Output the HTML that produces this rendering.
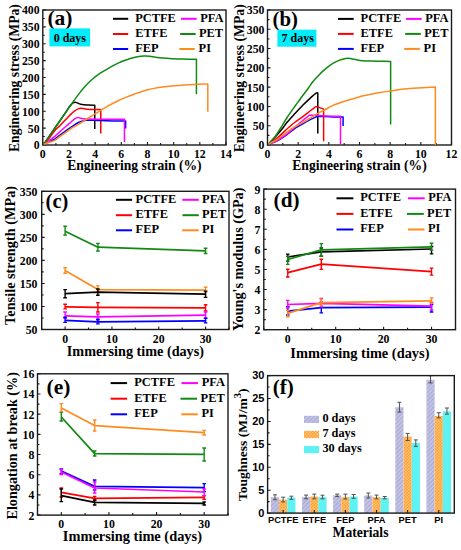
<!DOCTYPE html><html><head><meta charset="utf-8"><style>html,body{margin:0;padding:0;background:#fff;}svg{display:block}</style></head><body>
<svg width="461" height="550" viewBox="0 0 461 550">
<defs><pattern id="hl" patternUnits="userSpaceOnUse" width="3" height="3" patternTransform="rotate(45)"><rect width="3" height="3" fill="#c4c4e6"/><rect width="1.2" height="3" fill="#ababd6"/></pattern><pattern id="ho" patternUnits="userSpaceOnUse" width="3" height="3"><rect width="3" height="3" fill="#ffa03c"/><rect width="1.5" height="1.5" fill="#ffc46a"/><rect x="1.5" y="1.5" width="1.5" height="1.5" fill="#ffc46a"/></pattern></defs>
<rect width="461" height="550" fill="#fff"/>
<path d="M42.8 145h3 M42.8 128.12h3 M42.8 111.25h3 M42.8 94.38h3 M42.8 77.5h3 M42.8 60.62h3 M42.8 43.75h3 M42.8 26.88h3 M42.8 10h3 M42.8 136.56h2 M42.8 119.69h2 M42.8 102.81h2 M42.8 85.94h2 M42.8 69.06h2 M42.8 52.19h2 M42.8 35.31h2 M42.8 18.44h2 M42.8 145v-3 M68.97 145v-3 M95.14 145v-3 M121.31 145v-3 M147.49 145v-3 M173.66 145v-3 M199.83 145v-3 M226 145v-3 M55.89 145v-2 M82.06 145v-2 M108.23 145v-2 M134.4 145v-2 M160.57 145v-2 M186.74 145v-2 M212.91 145v-2" stroke="#1a1a1a" stroke-width="1.1" fill="none"/>
<rect x="42.8" y="10" width="183.2" height="135" fill="none" stroke="#1a1a1a" stroke-width="1.4"/>
<text transform="translate(39.6 149.48) scale(1 1.1)" text-anchor="end" font-family="'Liberation Serif', serif" font-weight="bold" font-size="11.8">0</text>
<text transform="translate(39.6 132.6) scale(1 1.1)" text-anchor="end" font-family="'Liberation Serif', serif" font-weight="bold" font-size="11.8">50</text>
<text transform="translate(39.6 115.73) scale(1 1.1)" text-anchor="end" font-family="'Liberation Serif', serif" font-weight="bold" font-size="11.8">100</text>
<text transform="translate(39.6 98.85) scale(1 1.1)" text-anchor="end" font-family="'Liberation Serif', serif" font-weight="bold" font-size="11.8">150</text>
<text transform="translate(39.6 81.98) scale(1 1.1)" text-anchor="end" font-family="'Liberation Serif', serif" font-weight="bold" font-size="11.8">200</text>
<text transform="translate(39.6 65.1) scale(1 1.1)" text-anchor="end" font-family="'Liberation Serif', serif" font-weight="bold" font-size="11.8">250</text>
<text transform="translate(39.6 48.23) scale(1 1.1)" text-anchor="end" font-family="'Liberation Serif', serif" font-weight="bold" font-size="11.8">300</text>
<text transform="translate(39.6 31.35) scale(1 1.1)" text-anchor="end" font-family="'Liberation Serif', serif" font-weight="bold" font-size="11.8">350</text>
<text transform="translate(39.6 14.48) scale(1 1.1)" text-anchor="end" font-family="'Liberation Serif', serif" font-weight="bold" font-size="11.8">400</text>
<text transform="translate(42.8 157.7) scale(1 1.1)" text-anchor="middle" font-family="'Liberation Serif', serif" font-weight="bold" font-size="11.8">0</text>
<text transform="translate(68.97 157.7) scale(1 1.1)" text-anchor="middle" font-family="'Liberation Serif', serif" font-weight="bold" font-size="11.8">2</text>
<text transform="translate(95.14 157.7) scale(1 1.1)" text-anchor="middle" font-family="'Liberation Serif', serif" font-weight="bold" font-size="11.8">4</text>
<text transform="translate(121.31 157.7) scale(1 1.1)" text-anchor="middle" font-family="'Liberation Serif', serif" font-weight="bold" font-size="11.8">6</text>
<text transform="translate(147.49 157.7) scale(1 1.1)" text-anchor="middle" font-family="'Liberation Serif', serif" font-weight="bold" font-size="11.8">8</text>
<text transform="translate(173.66 157.7) scale(1 1.1)" text-anchor="middle" font-family="'Liberation Serif', serif" font-weight="bold" font-size="11.8">10</text>
<text transform="translate(199.83 157.7) scale(1 1.1)" text-anchor="middle" font-family="'Liberation Serif', serif" font-weight="bold" font-size="11.8">12</text>
<text transform="translate(226 157.7) scale(1 1.1)" text-anchor="middle" font-family="'Liberation Serif', serif" font-weight="bold" font-size="11.8">14</text>
<text x="134.4" y="170.4" text-anchor="middle" font-family="'Liberation Serif', serif" font-weight="bold" font-size="13.6">Engineering strain (%)</text>
<text x="19.2" y="78.1" text-anchor="middle" font-family="'Liberation Serif', serif" font-weight="bold" font-size="13.7" transform="rotate(-90 19.2 78.1)">Engineering stress (MPa)</text>
<text x="47.4" y="25.2" text-anchor="start" font-family="'Liberation Serif', serif" font-weight="bold" font-size="21.5">(a)</text>
<rect x="49.4" y="28.4" width="40.7" height="18" fill="#02ecfa"/>
<text x="53.7" y="41.5" text-anchor="start" font-family="'Liberation Serif', serif" font-weight="bold" font-size="12">0 days</text>
<line x1="113" y1="18.8" x2="128.2" y2="18.8" stroke="#000000" stroke-width="2"/>
<text x="135.2" y="21.6" text-anchor="start" font-family="'Liberation Serif', serif" font-weight="bold" font-size="12.4">PCTFE</text>
<line x1="181" y1="18.8" x2="196.7" y2="18.8" stroke="#ff00ff" stroke-width="2"/>
<text x="200.2" y="21.6" text-anchor="start" font-family="'Liberation Serif', serif" font-weight="bold" font-size="12.4">PFA</text>
<line x1="113" y1="34" x2="128.2" y2="34" stroke="#ff0000" stroke-width="2"/>
<text x="135.2" y="36.8" text-anchor="start" font-family="'Liberation Serif', serif" font-weight="bold" font-size="12.4">ETFE</text>
<line x1="180.2" y1="34" x2="195.6" y2="34" stroke="#108a10" stroke-width="2"/>
<text x="198.9" y="36.8" text-anchor="start" font-family="'Liberation Serif', serif" font-weight="bold" font-size="12.4">PET</text>
<line x1="113" y1="49" x2="128.2" y2="49" stroke="#0000ff" stroke-width="2"/>
<text x="135.2" y="51.8" text-anchor="start" font-family="'Liberation Serif', serif" font-weight="bold" font-size="12.4">FEP</text>
<line x1="179.4" y1="49" x2="194.7" y2="49" stroke="#ff8a1e" stroke-width="2"/>
<text x="198.6" y="51.8" text-anchor="start" font-family="'Liberation Serif', serif" font-weight="bold" font-size="12.4">PI</text>
<path d="M43.72 144.32C45.61 141.57 51.15 133.52 55.1 127.79C59.05 122.05 65.05 113.36 67.4 109.9C69.76 106.44 68.32 108.18 69.23 107.03C70.15 105.88 71.81 103.76 72.9 102.98C73.99 102.2 74.47 102.18 75.78 102.37C77.08 102.57 78.72 103.73 80.75 104.16C82.78 104.6 85.61 104.8 87.95 104.97C90.28 105.14 93.62 105.14 94.75 105.18L94.75 128.97" fill="none" stroke="#000000" stroke-width="1.5" stroke-linejoin="round"/>
<path d="M43.72 144.32C44.65 143.26 47.45 140.25 49.34 137.91C51.24 135.57 53.31 132.37 55.1 130.28C56.89 128.2 57.65 127.89 60.07 125.42C62.49 122.96 67.25 117.86 69.63 115.47C72 113.08 72.79 112.22 74.34 111.08C75.89 109.94 77.7 109.1 78.92 108.62C80.14 108.14 80.16 108.1 81.66 108.21C83.17 108.33 85.85 109.08 87.95 109.29C90.04 109.51 92.09 109.46 94.23 109.5C96.36 109.53 99.68 109.5 100.77 109.5L100.77 133.53" fill="none" stroke="#ff0000" stroke-width="1.5" stroke-linejoin="round"/>
<path d="M43.72 144.32C44.65 143.88 47.45 142.55 49.34 141.62C51.24 140.7 53.31 139.89 55.1 138.79C56.89 137.69 57.72 136.76 60.07 135.04C62.43 133.32 67.27 129.85 69.23 128.46C71.2 127.07 70.24 127.74 71.85 126.71C73.46 125.68 76.52 123.37 78.92 122.29C81.32 121.2 82.78 120.47 86.24 120.19C89.71 119.91 95.4 120.48 99.72 120.6C104.04 120.72 107.84 120.83 112.15 120.9C116.47 120.98 123.39 121.02 125.63 121.04L125.63 128.5" fill="none" stroke="#0000ff" stroke-width="1.5" stroke-linejoin="round"/>
<path d="M43.72 144.32C44.65 143.71 47.45 141.97 49.34 140.61C51.24 139.26 53.31 137.71 55.1 136.19C56.89 134.67 57.72 133.6 60.07 131.5C62.43 129.4 66.86 125.63 69.23 123.57C71.61 121.5 72.88 120.13 74.34 119.11C75.8 118.1 76.5 117.54 78 117.49C79.51 117.44 79.75 118.51 83.37 118.81C86.99 119.11 94.92 119.23 99.72 119.32C104.52 119.41 108.03 119.34 112.15 119.35C116.28 119.36 122.4 119.35 124.45 119.35L124.45 142" fill="none" stroke="#ff00ff" stroke-width="1.5" stroke-linejoin="round"/>
<path d="M43.72 144.32C45.61 141.57 51.15 133.52 55.1 127.79C59.05 122.05 64.44 114.18 67.4 109.9C70.37 105.62 70.91 104.86 72.9 102.1C74.88 99.35 77.15 96.11 79.31 93.36C81.47 90.61 83.69 87.95 85.85 85.6C88.01 83.25 90.1 81.2 92.26 79.29C94.42 77.38 96.63 75.64 98.81 74.12C100.99 72.61 103.19 71.5 105.35 70.21C107.51 68.92 109.36 67.66 111.76 66.36C114.16 65.06 117.63 63.4 119.74 62.41C121.86 61.43 122.06 61.28 124.45 60.46C126.85 59.63 130.91 58.22 134.14 57.49C137.37 56.75 141.23 56.25 143.82 56.03C146.42 55.82 147.77 55.98 149.71 56.17C151.65 56.36 153.22 56.86 155.47 57.18C157.71 57.5 160.27 57.84 163.19 58.09C166.11 58.35 169.75 58.53 173 58.7C176.25 58.87 178.78 59 182.69 59.11C186.59 59.21 194.14 59.3 196.43 59.34L196.43 94.31" fill="none" stroke="#108a10" stroke-width="1.5" stroke-linejoin="round"/>
<path d="M43.72 144.32C44.65 143.99 47.45 143 49.34 142.3C51.24 141.6 53.31 141.09 55.1 140.11C56.89 139.12 57.72 138.11 60.07 136.39C62.43 134.68 67.27 131.21 69.23 129.81C71.2 128.41 70.24 128.94 71.85 127.99C73.46 127.04 76.23 125.72 78.92 124.11C81.6 122.5 84.81 120.31 87.95 118.34C91.09 116.36 94.47 114.29 97.76 112.26C101.05 110.24 104.39 108.07 107.71 106.19C111.02 104.3 114.34 102.54 117.65 100.96C120.97 99.37 124.76 97.82 127.6 96.67C130.43 95.52 132.42 94.86 134.66 94.04C136.91 93.22 138.91 92.45 141.07 91.74C143.23 91.03 145.46 90.35 147.62 89.78C149.78 89.22 151.22 88.86 154.03 88.37C156.84 87.88 161.12 87.29 164.5 86.85C167.88 86.4 171.08 86.02 174.31 85.7C177.54 85.38 180.64 85.14 183.86 84.92C187.09 84.71 189.69 84.54 193.68 84.38C197.67 84.23 205.46 84.08 207.81 84.01L207.81 111.79" fill="none" stroke="#ff8a1e" stroke-width="1.5" stroke-linejoin="round"/>
<path d="M267.5 145h3 M267.5 125.71h3 M267.5 106.43h3 M267.5 87.14h3 M267.5 67.86h3 M267.5 48.57h3 M267.5 29.29h3 M267.5 10h3 M267.5 135.36h2 M267.5 116.07h2 M267.5 96.79h2 M267.5 77.5h2 M267.5 58.21h2 M267.5 38.93h2 M267.5 19.64h2 M267.5 145v-3 M298.17 145v-3 M328.83 145v-3 M359.5 145v-3 M390.17 145v-3 M420.83 145v-3 M451.5 145v-3 M282.83 145v-2 M313.5 145v-2 M344.17 145v-2 M374.83 145v-2 M405.5 145v-2 M436.17 145v-2" stroke="#1a1a1a" stroke-width="1.1" fill="none"/>
<rect x="267.5" y="10" width="184" height="135" fill="none" stroke="#1a1a1a" stroke-width="1.4"/>
<text transform="translate(264.5 149.48) scale(1 1.1)" text-anchor="end" font-family="'Liberation Serif', serif" font-weight="bold" font-size="11.8">0</text>
<text transform="translate(264.5 130.19) scale(1 1.1)" text-anchor="end" font-family="'Liberation Serif', serif" font-weight="bold" font-size="11.8">50</text>
<text transform="translate(264.5 110.91) scale(1 1.1)" text-anchor="end" font-family="'Liberation Serif', serif" font-weight="bold" font-size="11.8">100</text>
<text transform="translate(264.5 91.62) scale(1 1.1)" text-anchor="end" font-family="'Liberation Serif', serif" font-weight="bold" font-size="11.8">150</text>
<text transform="translate(264.5 72.34) scale(1 1.1)" text-anchor="end" font-family="'Liberation Serif', serif" font-weight="bold" font-size="11.8">200</text>
<text transform="translate(264.5 53.05) scale(1 1.1)" text-anchor="end" font-family="'Liberation Serif', serif" font-weight="bold" font-size="11.8">250</text>
<text transform="translate(264.5 33.76) scale(1 1.1)" text-anchor="end" font-family="'Liberation Serif', serif" font-weight="bold" font-size="11.8">300</text>
<text transform="translate(264.5 14.48) scale(1 1.1)" text-anchor="end" font-family="'Liberation Serif', serif" font-weight="bold" font-size="11.8">350</text>
<text transform="translate(267.5 158) scale(1 1.1)" text-anchor="middle" font-family="'Liberation Serif', serif" font-weight="bold" font-size="11.8">0</text>
<text transform="translate(298.17 158) scale(1 1.1)" text-anchor="middle" font-family="'Liberation Serif', serif" font-weight="bold" font-size="11.8">2</text>
<text transform="translate(328.83 158) scale(1 1.1)" text-anchor="middle" font-family="'Liberation Serif', serif" font-weight="bold" font-size="11.8">4</text>
<text transform="translate(359.5 158) scale(1 1.1)" text-anchor="middle" font-family="'Liberation Serif', serif" font-weight="bold" font-size="11.8">6</text>
<text transform="translate(390.17 158) scale(1 1.1)" text-anchor="middle" font-family="'Liberation Serif', serif" font-weight="bold" font-size="11.8">8</text>
<text transform="translate(420.83 158) scale(1 1.1)" text-anchor="middle" font-family="'Liberation Serif', serif" font-weight="bold" font-size="11.8">10</text>
<text transform="translate(451.5 158) scale(1 1.1)" text-anchor="middle" font-family="'Liberation Serif', serif" font-weight="bold" font-size="11.8">12</text>
<text x="359.5" y="170.4" text-anchor="middle" font-family="'Liberation Serif', serif" font-weight="bold" font-size="13.6">Engineering strain (%)</text>
<text x="244" y="78.3" text-anchor="middle" font-family="'Liberation Serif', serif" font-weight="bold" font-size="13.7" transform="rotate(-90 244 78.3)">Engineering stress (MPa)</text>
<text x="272.6" y="26.2" text-anchor="start" font-family="'Liberation Serif', serif" font-weight="bold" font-size="20.8">(b)</text>
<rect x="277.4" y="29.7" width="39" height="17" fill="#02ecfa"/>
<text x="281.6" y="42.2" text-anchor="start" font-family="'Liberation Serif', serif" font-weight="bold" font-size="12">7 days</text>
<line x1="338" y1="18.9" x2="353.7" y2="18.9" stroke="#000000" stroke-width="2"/>
<text x="360.6" y="21.7" text-anchor="start" font-family="'Liberation Serif', serif" font-weight="bold" font-size="12.4">PCTFE</text>
<line x1="406.1" y1="18.9" x2="421.7" y2="18.9" stroke="#ff00ff" stroke-width="2"/>
<text x="425.2" y="21.7" text-anchor="start" font-family="'Liberation Serif', serif" font-weight="bold" font-size="12.4">PFA</text>
<line x1="338" y1="33.9" x2="353.7" y2="33.9" stroke="#ff0000" stroke-width="2"/>
<text x="360.6" y="36.7" text-anchor="start" font-family="'Liberation Serif', serif" font-weight="bold" font-size="12.4">ETFE</text>
<line x1="405.2" y1="33.9" x2="420.8" y2="33.9" stroke="#108a10" stroke-width="2"/>
<text x="424.3" y="36.7" text-anchor="start" font-family="'Liberation Serif', serif" font-weight="bold" font-size="12.4">PET</text>
<line x1="338" y1="48.9" x2="353.7" y2="48.9" stroke="#0000ff" stroke-width="2"/>
<text x="360.6" y="51.7" text-anchor="start" font-family="'Liberation Serif', serif" font-weight="bold" font-size="12.4">FEP</text>
<line x1="404.2" y1="48.9" x2="419.8" y2="48.9" stroke="#ff8a1e" stroke-width="2"/>
<text x="423.6" y="51.7" text-anchor="start" font-family="'Liberation Serif', serif" font-weight="bold" font-size="12.4">PI</text>
<path d="M268.42 144.11C269.8 142.65 274.3 138.04 276.7 135.36C279.1 132.68 281.07 130.25 282.83 128.03C284.6 125.81 285.26 124.46 287.28 122.05C289.3 119.64 292.37 116.36 294.95 113.56C297.53 110.77 300.26 107.81 302.77 105.27C305.27 102.73 308.18 100 309.97 98.33C311.76 96.66 312.53 96.08 313.5 95.24C314.47 94.41 315.24 93.73 315.8 93.31C316.36 92.9 316.54 92.8 316.87 92.74C317.21 92.67 317.64 92.9 317.79 92.93L317.79 133.51" fill="none" stroke="#000000" stroke-width="1.5" stroke-linejoin="round"/>
<path d="M268.42 144.11C269.8 143.17 273.95 140.64 276.7 138.44C279.45 136.24 282.91 132.75 284.9 130.92C286.9 129.09 286.99 128.9 288.66 127.45C290.33 126 292.8 123.88 294.95 122.24C297.09 120.6 299.37 119.2 301.54 117.61C303.71 116.03 305.81 114.4 307.98 112.72C310.15 111.03 313.14 108.49 314.57 107.51C316 106.53 315.49 106.72 316.57 106.81C317.64 106.91 319.84 107.71 321.01 108.09C322.19 108.47 323.19 108.92 323.62 109.09L323.62 141.18" fill="none" stroke="#ff0000" stroke-width="1.5" stroke-linejoin="round"/>
<path d="M268.42 144.11C269.8 143.62 273.95 142.47 276.7 141.14C279.45 139.81 281.86 138.27 284.9 136.13C287.94 133.99 292.17 130.2 294.95 128.3C297.72 126.4 299.37 125.96 301.54 124.71C303.71 123.46 305.81 122 307.98 120.82C310.15 119.63 313.04 118.31 314.57 117.61C316.11 116.91 315.44 116.78 317.18 116.61C318.92 116.44 322.29 116.56 325 116.61C327.71 116.66 330.42 116.84 333.43 116.92C336.45 117 341.48 117.08 343.09 117.11L343.09 125.91" fill="none" stroke="#0000ff" stroke-width="1.5" stroke-linejoin="round"/>
<path d="M268.42 144.11C269.8 143.55 273.95 142.18 276.7 140.76C279.45 139.34 281.86 137.84 284.9 135.59C287.94 133.34 292.17 129.6 294.95 127.26C297.72 124.91 299.37 123.34 301.54 121.51C303.71 119.68 306.57 117.34 307.98 116.3C309.39 115.27 308.87 115.47 309.97 115.3C311.07 115.13 312.07 115.18 314.57 115.3C317.08 115.42 320.68 115.83 325 115.99C329.32 116.16 337.91 116.22 340.49 116.26L340.49 144.42" fill="none" stroke="#ff00ff" stroke-width="1.5" stroke-linejoin="round"/>
<path d="M268.42 144.11C269.54 142.85 273.05 139.32 275.17 136.51C277.28 133.71 279.08 130.51 281.1 127.3C283.12 124.08 284.97 120.74 287.28 117.23C289.59 113.72 292.9 109.11 294.95 106.24C296.99 103.36 298.4 101.56 299.55 99.99C300.7 98.41 300.36 98.78 301.85 96.79C303.33 94.79 306.57 90.53 308.44 87.99C310.31 85.45 311.2 83.81 313.04 81.55C314.88 79.29 317.31 76.6 319.48 74.41C321.65 72.23 323.9 70.22 326.07 68.44C328.25 66.65 330.37 65.03 332.51 63.69C334.66 62.35 336.78 61.28 338.95 60.41C341.13 59.55 344.01 58.85 345.55 58.48C347.08 58.12 347.05 58.14 348.15 58.21C349.25 58.28 350.17 58.54 352.14 58.91C354.11 59.28 356.84 60.05 359.96 60.41C363.08 60.78 367.19 60.96 370.85 61.11C374.5 61.26 378.59 61.24 381.89 61.3C385.18 61.36 389.17 61.46 390.63 61.49L390.63 124.56" fill="none" stroke="#108a10" stroke-width="1.5" stroke-linejoin="round"/>
<path d="M268.42 144.11C269.8 143.43 273.95 141.72 276.7 139.99C279.45 138.25 281.86 135.92 284.9 133.7C287.94 131.48 292.17 128.45 294.95 126.68C297.72 124.91 299.37 124.29 301.54 123.09C303.71 121.9 305.81 120.8 307.98 119.5C310.15 118.21 312.4 116.6 314.57 115.3C316.75 114 319.28 112.63 321.01 111.71C322.75 110.79 323.01 110.84 325 109.78C326.99 108.73 329.47 106.89 332.97 105.39C336.47 103.89 341.66 102.21 346.01 100.8C350.35 99.38 354.7 98.02 359.04 96.9C363.38 95.78 368.57 94.81 372.07 94.09C375.57 93.36 376.88 93.08 380.05 92.54C383.22 92.01 387.1 91.46 391.09 90.88C395.07 90.31 399.65 89.59 403.97 89.11C408.29 88.63 411.76 88.33 417 87.99C422.24 87.66 432.33 87.25 435.4 87.1L435.4 145" fill="none" stroke="#ff8a1e" stroke-width="1.5" stroke-linejoin="round"/>
<path d="M41.7 329.5h3 M41.7 306.47h3 M41.7 283.43h3 M41.7 260.4h3 M41.7 237.37h3 M41.7 214.33h3 M41.7 191.3h3 M41.7 317.98h2 M41.7 294.95h2 M41.7 271.92h2 M41.7 248.88h2 M41.7 225.85h2 M41.7 202.82h2 M65.11 329.5v-3 M111.94 329.5v-3 M158.76 329.5v-3 M205.59 329.5v-3 M41.7 329.5v-2 M88.53 329.5v-2 M135.35 329.5v-2 M182.18 329.5v-2 M229 329.5v-2" stroke="#1a1a1a" stroke-width="1.1" fill="none"/>
<rect x="41.7" y="191.3" width="187.3" height="138.2" fill="none" stroke="#1a1a1a" stroke-width="1.4"/>
<text transform="translate(37.5 333.98) scale(1 1.1)" text-anchor="end" font-family="'Liberation Serif', serif" font-weight="bold" font-size="11.8">50</text>
<text transform="translate(37.5 310.94) scale(1 1.1)" text-anchor="end" font-family="'Liberation Serif', serif" font-weight="bold" font-size="11.8">100</text>
<text transform="translate(37.5 287.91) scale(1 1.1)" text-anchor="end" font-family="'Liberation Serif', serif" font-weight="bold" font-size="11.8">150</text>
<text transform="translate(37.5 264.88) scale(1 1.1)" text-anchor="end" font-family="'Liberation Serif', serif" font-weight="bold" font-size="11.8">200</text>
<text transform="translate(37.5 241.84) scale(1 1.1)" text-anchor="end" font-family="'Liberation Serif', serif" font-weight="bold" font-size="11.8">250</text>
<text transform="translate(37.5 218.81) scale(1 1.1)" text-anchor="end" font-family="'Liberation Serif', serif" font-weight="bold" font-size="11.8">300</text>
<text transform="translate(37.5 195.78) scale(1 1.1)" text-anchor="end" font-family="'Liberation Serif', serif" font-weight="bold" font-size="11.8">350</text>
<text transform="translate(65.11 342.8) scale(1 1.1)" text-anchor="middle" font-family="'Liberation Serif', serif" font-weight="bold" font-size="11.8">0</text>
<text transform="translate(111.94 342.8) scale(1 1.1)" text-anchor="middle" font-family="'Liberation Serif', serif" font-weight="bold" font-size="11.8">10</text>
<text transform="translate(158.76 342.8) scale(1 1.1)" text-anchor="middle" font-family="'Liberation Serif', serif" font-weight="bold" font-size="11.8">20</text>
<text transform="translate(205.59 342.8) scale(1 1.1)" text-anchor="middle" font-family="'Liberation Serif', serif" font-weight="bold" font-size="11.8">30</text>
<text x="135.4" y="355.8" text-anchor="middle" font-family="'Liberation Serif', serif" font-weight="bold" font-size="14.2">Immersing time (days)</text>
<text x="15.5" y="255.4" text-anchor="middle" font-family="'Liberation Serif', serif" font-weight="bold" font-size="14.3" transform="rotate(-90 15.5 255.4)">Tensile strength (MPa)</text>
<text x="45.6" y="208" text-anchor="start" font-family="'Liberation Serif', serif" font-weight="bold" font-size="20.5">(c)</text>
<line x1="115.9" y1="199.8" x2="132.1" y2="199.8" stroke="#000000" stroke-width="2"/>
<text x="135.6" y="202.6" text-anchor="start" font-family="'Liberation Serif', serif" font-weight="bold" font-size="12.4">PCTFE</text>
<line x1="182.3" y1="199.8" x2="198.8" y2="199.8" stroke="#ff00ff" stroke-width="2"/>
<text x="202.1" y="202.6" text-anchor="start" font-family="'Liberation Serif', serif" font-weight="bold" font-size="12.4">PFA</text>
<line x1="115.9" y1="215.2" x2="132.1" y2="215.2" stroke="#ff0000" stroke-width="2"/>
<text x="135.6" y="218" text-anchor="start" font-family="'Liberation Serif', serif" font-weight="bold" font-size="12.4">ETFE</text>
<line x1="182.5" y1="215.2" x2="198.8" y2="215.2" stroke="#108a10" stroke-width="2"/>
<text x="202.1" y="218" text-anchor="start" font-family="'Liberation Serif', serif" font-weight="bold" font-size="12.4">PET</text>
<line x1="115.9" y1="230.3" x2="132.1" y2="230.3" stroke="#0000ff" stroke-width="2"/>
<text x="135.6" y="233.1" text-anchor="start" font-family="'Liberation Serif', serif" font-weight="bold" font-size="12.4">FEP</text>
<line x1="182.2" y1="230.3" x2="198.7" y2="230.3" stroke="#ff8a1e" stroke-width="2"/>
<text x="201.9" y="233.1" text-anchor="start" font-family="'Liberation Serif', serif" font-weight="bold" font-size="12.4">PI</text>
<polyline points="65.11,231.2 97.89,247.2 205.59,250.9" fill="none" stroke="#108a10" stroke-width="1.75" stroke-linejoin="round"/>
<path d="M65.11 235V226.3 M63.31 235h3.6 M63.31 226.3h3.6 M97.89 251V243.4 M96.09 251h3.6 M96.09 243.4h3.6 M205.59 253.5V248.2 M203.79 253.5h3.6 M203.79 248.2h3.6" stroke="#108a10" stroke-width="1.4" fill="none"/>
<polyline points="65.11,270.6 97.89,289.5 205.59,290" fill="none" stroke="#ff8a1e" stroke-width="1.75" stroke-linejoin="round"/>
<path d="M65.11 273.3V267.7 M63.31 273.3h3.6 M63.31 267.7h3.6 M97.89 291.1V285.9 M96.09 291.1h3.6 M96.09 285.9h3.6 M205.59 292.1V287.3 M203.79 292.1h3.6 M203.79 287.3h3.6" stroke="#ff8a1e" stroke-width="1.4" fill="none"/>
<polyline points="65.11,293.6 97.89,292.1 205.59,294.2" fill="none" stroke="#000000" stroke-width="1.75" stroke-linejoin="round"/>
<path d="M65.11 297.8V289.6 M63.31 297.8h3.6 M63.31 289.6h3.6 M97.89 295.3V289 M96.09 295.3h3.6 M96.09 289h3.6 M205.59 297.4V291.1 M203.79 297.4h3.6 M203.79 291.1h3.6" stroke="#000000" stroke-width="1.4" fill="none"/>
<polyline points="65.11,306.8 97.89,307.4 205.59,307.8" fill="none" stroke="#ff0000" stroke-width="1.75" stroke-linejoin="round"/>
<path d="M65.11 308.9V304.3 M63.31 308.9h3.6 M63.31 304.3h3.6 M97.89 312V302.6 M96.09 312h3.6 M96.09 302.6h3.6 M205.59 311V304.7 M203.79 311h3.6 M203.79 304.7h3.6" stroke="#ff0000" stroke-width="1.4" fill="none"/>
<polyline points="65.11,315.8 97.89,316.8 205.59,315.1" fill="none" stroke="#ff00ff" stroke-width="1.75" stroke-linejoin="round"/>
<path d="M65.11 318.3V312 M63.31 318.3h3.6 M63.31 312h3.6 M97.89 320V314 M96.09 320h3.6 M96.09 314h3.6 M205.59 318.3V312 M203.79 318.3h3.6 M203.79 312h3.6" stroke="#ff00ff" stroke-width="1.4" fill="none"/>
<polyline points="65.11,320.4 97.89,321.8 205.59,320.8" fill="none" stroke="#0000ff" stroke-width="1.75" stroke-linejoin="round"/>
<path d="M65.11 322.4V317.2 M63.31 322.4h3.6 M63.31 317.2h3.6 M97.89 323.9V319.3 M96.09 323.9h3.6 M96.09 319.3h3.6 M205.59 322.9V318.3 M203.79 322.9h3.6 M203.79 318.3h3.6" stroke="#0000ff" stroke-width="1.4" fill="none"/>
<path d="M263.8 329.7h3 M263.8 309.61h3 M263.8 289.53h3 M263.8 269.44h3 M263.8 249.36h3 M263.8 229.27h3 M263.8 209.19h3 M263.8 189.1h3 M263.8 319.66h2 M263.8 299.57h2 M263.8 279.49h2 M263.8 259.4h2 M263.8 239.31h2 M263.8 219.23h2 M263.8 199.14h2 M287.76 329.7v-3 M335.69 329.7v-3 M383.61 329.7v-3 M431.54 329.7v-3 M263.8 329.7v-2 M311.73 329.7v-2 M359.65 329.7v-2 M407.57 329.7v-2 M455.5 329.7v-2" stroke="#1a1a1a" stroke-width="1.1" fill="none"/>
<rect x="263.8" y="189.1" width="191.7" height="140.6" fill="none" stroke="#1a1a1a" stroke-width="1.4"/>
<text transform="translate(260.4 334.18) scale(1 1.1)" text-anchor="end" font-family="'Liberation Serif', serif" font-weight="bold" font-size="11.8">2</text>
<text transform="translate(260.4 314.09) scale(1 1.1)" text-anchor="end" font-family="'Liberation Serif', serif" font-weight="bold" font-size="11.8">3</text>
<text transform="translate(260.4 294.01) scale(1 1.1)" text-anchor="end" font-family="'Liberation Serif', serif" font-weight="bold" font-size="11.8">4</text>
<text transform="translate(260.4 273.92) scale(1 1.1)" text-anchor="end" font-family="'Liberation Serif', serif" font-weight="bold" font-size="11.8">5</text>
<text transform="translate(260.4 253.84) scale(1 1.1)" text-anchor="end" font-family="'Liberation Serif', serif" font-weight="bold" font-size="11.8">6</text>
<text transform="translate(260.4 233.75) scale(1 1.1)" text-anchor="end" font-family="'Liberation Serif', serif" font-weight="bold" font-size="11.8">7</text>
<text transform="translate(260.4 213.66) scale(1 1.1)" text-anchor="end" font-family="'Liberation Serif', serif" font-weight="bold" font-size="11.8">8</text>
<text transform="translate(260.4 193.58) scale(1 1.1)" text-anchor="end" font-family="'Liberation Serif', serif" font-weight="bold" font-size="11.8">9</text>
<text transform="translate(287.76 342.9) scale(1 1.1)" text-anchor="middle" font-family="'Liberation Serif', serif" font-weight="bold" font-size="11.8">0</text>
<text transform="translate(335.69 342.9) scale(1 1.1)" text-anchor="middle" font-family="'Liberation Serif', serif" font-weight="bold" font-size="11.8">10</text>
<text transform="translate(383.61 342.9) scale(1 1.1)" text-anchor="middle" font-family="'Liberation Serif', serif" font-weight="bold" font-size="11.8">20</text>
<text transform="translate(431.54 342.9) scale(1 1.1)" text-anchor="middle" font-family="'Liberation Serif', serif" font-weight="bold" font-size="11.8">30</text>
<text x="359.9" y="358.4" text-anchor="middle" font-family="'Liberation Serif', serif" font-weight="bold" font-size="14.4">Immersing time (days)</text>
<text x="243.5" y="259.3" text-anchor="middle" font-family="'Liberation Serif', serif" font-weight="bold" font-size="14.2" transform="rotate(-90 243.5 259.3)">Young's modulus (GPa)</text>
<text x="273.6" y="207" text-anchor="start" font-family="'Liberation Serif', serif" font-weight="bold" font-size="21.2">(d)</text>
<line x1="336.5" y1="198.3" x2="353.4" y2="198.3" stroke="#000000" stroke-width="2"/>
<text x="360.3" y="201.1" text-anchor="start" font-family="'Liberation Serif', serif" font-weight="bold" font-size="12.4">PCTFE</text>
<line x1="408" y1="198.3" x2="424.7" y2="198.3" stroke="#ff00ff" stroke-width="2"/>
<text x="428.2" y="201.1" text-anchor="start" font-family="'Liberation Serif', serif" font-weight="bold" font-size="12.4">PFA</text>
<line x1="336.5" y1="213.9" x2="353.4" y2="213.9" stroke="#ff0000" stroke-width="2"/>
<text x="360.3" y="216.7" text-anchor="start" font-family="'Liberation Serif', serif" font-weight="bold" font-size="12.4">ETFE</text>
<line x1="406.9" y1="213.9" x2="423.8" y2="213.9" stroke="#108a10" stroke-width="2"/>
<text x="427.1" y="216.7" text-anchor="start" font-family="'Liberation Serif', serif" font-weight="bold" font-size="12.4">PET</text>
<line x1="336.5" y1="229.5" x2="353.4" y2="229.5" stroke="#0000ff" stroke-width="2"/>
<text x="360.3" y="232.3" text-anchor="start" font-family="'Liberation Serif', serif" font-weight="bold" font-size="12.4">FEP</text>
<line x1="408" y1="229.5" x2="424.5" y2="229.5" stroke="#ff8a1e" stroke-width="2"/>
<text x="428" y="232.3" text-anchor="start" font-family="'Liberation Serif', serif" font-weight="bold" font-size="12.4">PI</text>
<polyline points="287.76,311.2 321.31,307.6 431.54,307" fill="none" stroke="#0000ff" stroke-width="1.75" stroke-linejoin="round"/>
<path d="M287.76 315V306.8 M285.96 315h3.6 M285.96 306.8h3.6 M321.31 312.9V302.3 M319.51 312.9h3.6 M319.51 302.3h3.6 M431.54 312V304.6 M429.74 312h3.6 M429.74 304.6h3.6" stroke="#0000ff" stroke-width="1.4" fill="none"/>
<polyline points="287.76,304.5 321.31,303.3 431.54,306.2" fill="none" stroke="#ff00ff" stroke-width="1.75" stroke-linejoin="round"/>
<path d="M287.76 308.1V300.4 M285.96 308.1h3.6 M285.96 300.4h3.6 M321.31 306.9V298.4 M319.51 306.9h3.6 M319.51 298.4h3.6 M431.54 310V302.5 M429.74 310h3.6 M429.74 302.5h3.6" stroke="#ff00ff" stroke-width="1.4" fill="none"/>
<polyline points="287.76,313.4 321.31,302.6 431.54,300.8" fill="none" stroke="#ff8a1e" stroke-width="1.75" stroke-linejoin="round"/>
<path d="M287.76 316.7V310.2 M285.96 316.7h3.6 M285.96 310.2h3.6 M321.31 305.6V299.1 M319.51 305.6h3.6 M319.51 299.1h3.6 M431.54 303.4V298 M429.74 303.4h3.6 M429.74 298h3.6" stroke="#ff8a1e" stroke-width="1.4" fill="none"/>
<polyline points="287.76,272.6 321.31,264.2 431.54,271.6" fill="none" stroke="#ff0000" stroke-width="1.75" stroke-linejoin="round"/>
<path d="M287.76 277V269.3 M285.96 277h3.6 M285.96 269.3h3.6 M321.31 269.4V259.3 M319.51 269.4h3.6 M319.51 259.3h3.6 M431.54 275.1V268.1 M429.74 275.1h3.6 M429.74 268.1h3.6" stroke="#ff0000" stroke-width="1.4" fill="none"/>
<polyline points="287.76,257 321.31,251.8 431.54,249" fill="none" stroke="#000000" stroke-width="1.75" stroke-linejoin="round"/>
<path d="M287.76 261.1V254.1 M285.96 261.1h3.6 M285.96 254.1h3.6 M321.31 256.3V248 M319.51 256.3h3.6 M319.51 248h3.6 M431.54 253.9V246.5 M429.74 253.9h3.6 M429.74 246.5h3.6" stroke="#000000" stroke-width="1.4" fill="none"/>
<polyline points="287.76,259.5 321.31,249.8 431.54,246.9" fill="none" stroke="#108a10" stroke-width="1.75" stroke-linejoin="round"/>
<path d="M287.76 264.4V256.2 M285.96 264.4h3.6 M285.96 256.2h3.6 M321.31 256.3V243.6 M319.51 256.3h3.6 M319.51 243.6h3.6 M431.54 250.1V243.3 M429.74 250.1h3.6 M429.74 243.3h3.6" stroke="#108a10" stroke-width="1.4" fill="none"/>
<path d="M37.5 515.1h3 M37.5 494.91h3 M37.5 474.73h3 M37.5 454.54h3 M37.5 434.36h3 M37.5 414.17h3 M37.5 393.99h3 M37.5 373.8h3 M37.5 505.01h2 M37.5 484.82h2 M37.5 464.64h2 M37.5 444.45h2 M37.5 424.26h2 M37.5 404.08h2 M37.5 383.89h2 M61.31 515.1v-3 M108.94 515.1v-3 M156.56 515.1v-3 M204.19 515.1v-3 M37.5 515.1v-2 M85.12 515.1v-2 M132.75 515.1v-2 M180.38 515.1v-2 M228 515.1v-2" stroke="#1a1a1a" stroke-width="1.1" fill="none"/>
<rect x="37.5" y="373.8" width="190.5" height="141.3" fill="none" stroke="#1a1a1a" stroke-width="1.4"/>
<text transform="translate(34.3 519.58) scale(1 1.1)" text-anchor="end" font-family="'Liberation Serif', serif" font-weight="bold" font-size="11.8">2</text>
<text transform="translate(34.3 499.39) scale(1 1.1)" text-anchor="end" font-family="'Liberation Serif', serif" font-weight="bold" font-size="11.8">4</text>
<text transform="translate(34.3 479.21) scale(1 1.1)" text-anchor="end" font-family="'Liberation Serif', serif" font-weight="bold" font-size="11.8">6</text>
<text transform="translate(34.3 459.02) scale(1 1.1)" text-anchor="end" font-family="'Liberation Serif', serif" font-weight="bold" font-size="11.8">8</text>
<text transform="translate(34.3 438.84) scale(1 1.1)" text-anchor="end" font-family="'Liberation Serif', serif" font-weight="bold" font-size="11.8">10</text>
<text transform="translate(34.3 418.65) scale(1 1.1)" text-anchor="end" font-family="'Liberation Serif', serif" font-weight="bold" font-size="11.8">12</text>
<text transform="translate(34.3 398.46) scale(1 1.1)" text-anchor="end" font-family="'Liberation Serif', serif" font-weight="bold" font-size="11.8">14</text>
<text transform="translate(34.3 378.28) scale(1 1.1)" text-anchor="end" font-family="'Liberation Serif', serif" font-weight="bold" font-size="11.8">16</text>
<text transform="translate(61.31 527.9) scale(1 1.1)" text-anchor="middle" font-family="'Liberation Serif', serif" font-weight="bold" font-size="11.8">0</text>
<text transform="translate(108.94 527.9) scale(1 1.1)" text-anchor="middle" font-family="'Liberation Serif', serif" font-weight="bold" font-size="11.8">10</text>
<text transform="translate(156.56 527.9) scale(1 1.1)" text-anchor="middle" font-family="'Liberation Serif', serif" font-weight="bold" font-size="11.8">20</text>
<text transform="translate(204.19 527.9) scale(1 1.1)" text-anchor="middle" font-family="'Liberation Serif', serif" font-weight="bold" font-size="11.8">30</text>
<text x="132.4" y="540.8" text-anchor="middle" font-family="'Liberation Serif', serif" font-weight="bold" font-size="14.4">Immersing time (days)</text>
<text x="17.3" y="445.8" text-anchor="middle" font-family="'Liberation Serif', serif" font-weight="bold" font-size="14.2" transform="rotate(-90 17.3 445.8)">Elongation at break (%)</text>
<text x="46.6" y="394.2" text-anchor="start" font-family="'Liberation Serif', serif" font-weight="bold" font-size="21.5">(e)</text>
<line x1="110.6" y1="383.1" x2="127.1" y2="383.1" stroke="#000000" stroke-width="2"/>
<text x="134.3" y="385.9" text-anchor="start" font-family="'Liberation Serif', serif" font-weight="bold" font-size="12.4">PCTFE</text>
<line x1="181.5" y1="383.1" x2="198" y2="383.1" stroke="#ff00ff" stroke-width="2"/>
<text x="201.7" y="385.9" text-anchor="start" font-family="'Liberation Serif', serif" font-weight="bold" font-size="12.4">PFA</text>
<line x1="110.6" y1="398.7" x2="127.1" y2="398.7" stroke="#ff0000" stroke-width="2"/>
<text x="134.3" y="401.5" text-anchor="start" font-family="'Liberation Serif', serif" font-weight="bold" font-size="12.4">ETFE</text>
<line x1="180.5" y1="398.7" x2="197" y2="398.7" stroke="#108a10" stroke-width="2"/>
<text x="200.6" y="401.5" text-anchor="start" font-family="'Liberation Serif', serif" font-weight="bold" font-size="12.4">PET</text>
<line x1="110.6" y1="414.3" x2="127.1" y2="414.3" stroke="#0000ff" stroke-width="2"/>
<text x="134.3" y="417.1" text-anchor="start" font-family="'Liberation Serif', serif" font-weight="bold" font-size="12.4">FEP</text>
<line x1="181.3" y1="414.3" x2="197.8" y2="414.3" stroke="#ff8a1e" stroke-width="2"/>
<text x="201.5" y="417.1" text-anchor="start" font-family="'Liberation Serif', serif" font-weight="bold" font-size="12.4">PI</text>
<polyline points="61.31,492.4 94.65,498.4 204.19,497.4" fill="none" stroke="#ff0000" stroke-width="1.75" stroke-linejoin="round"/>
<path d="M61.31 497V488 M59.51 497h3.6 M59.51 488h3.6 M94.65 500.6V496.4 M92.85 500.6h3.6 M92.85 496.4h3.6 M204.19 499.4V495.6 M202.39 499.4h3.6 M202.39 495.6h3.6" stroke="#ff0000" stroke-width="1.4" fill="none"/>
<polyline points="61.31,495.6 94.65,502.4 204.19,503.4" fill="none" stroke="#000000" stroke-width="1.75" stroke-linejoin="round"/>
<path d="M61.31 501.6V489 M59.51 501.6h3.6 M59.51 489h3.6 M94.65 505V500 M92.85 505h3.6 M92.85 500h3.6 M204.19 505V502 M202.39 505h3.6 M202.39 502h3.6" stroke="#000000" stroke-width="1.4" fill="none"/>
<polyline points="61.31,471 94.65,486.4 204.19,487.6" fill="none" stroke="#0000ff" stroke-width="1.75" stroke-linejoin="round"/>
<path d="M61.31 473.6V469 M59.51 473.6h3.6 M59.51 469h3.6 M94.65 490V480 M92.85 490h3.6 M92.85 480h3.6 M204.19 491.6V483.6 M202.39 491.6h3.6 M202.39 483.6h3.6" stroke="#0000ff" stroke-width="1.4" fill="none"/>
<polyline points="61.31,472 94.65,488 204.19,492" fill="none" stroke="#ff00ff" stroke-width="1.75" stroke-linejoin="round"/>
<path d="M61.31 474.5V469.5 M59.51 474.5h3.6 M59.51 469.5h3.6 M94.65 493V482 M92.85 493h3.6 M92.85 482h3.6 M204.19 495.6V489 M202.39 495.6h3.6 M202.39 489h3.6" stroke="#ff00ff" stroke-width="1.4" fill="none"/>
<polyline points="61.31,417 94.65,453.6 204.19,454.4" fill="none" stroke="#108a10" stroke-width="1.75" stroke-linejoin="round"/>
<path d="M61.31 421V412.4 M59.51 421h3.6 M59.51 412.4h3.6 M94.65 456V451 M92.85 456h3.6 M92.85 451h3.6 M204.19 461V448 M202.39 461h3.6 M202.39 448h3.6" stroke="#108a10" stroke-width="1.4" fill="none"/>
<polyline points="61.31,408 94.65,425.6 204.19,432.6" fill="none" stroke="#ff8a1e" stroke-width="1.75" stroke-linejoin="round"/>
<path d="M61.31 411.6V403.6 M59.51 411.6h3.6 M59.51 403.6h3.6 M94.65 431V420 M92.85 431h3.6 M92.85 420h3.6 M204.19 435V430.4 M202.39 435h3.6 M202.39 430.4h3.6" stroke="#ff8a1e" stroke-width="1.4" fill="none"/>
<rect x="270.86" y="497.2" width="8.2" height="15.9" fill="url(#hl)"/>
<rect x="279.06" y="499.67" width="8.2" height="13.43" fill="url(#ho)"/>
<rect x="287.26" y="497.61" width="8.2" height="15.49" fill="#5ef2f2"/>
<path d="M274.96 494.8V499.7 M272.96 494.8h4 M272.96 499.7h4 M283.16 497.2V501.9 M281.16 497.2h4 M281.16 501.9h4 M291.36 496.2V499.3 M289.36 496.2h4 M289.36 499.3h4" stroke="#505050" stroke-width="1.0" fill="none"/>
<rect x="301.98" y="496.88" width="8.2" height="16.23" fill="url(#hl)"/>
<rect x="310.18" y="496.6" width="8.2" height="16.5" fill="url(#ho)"/>
<rect x="318.38" y="497.2" width="8.2" height="15.9" fill="#5ef2f2"/>
<path d="M306.08 495.1V498.8 M304.08 495.1h4 M304.08 498.8h4 M314.28 494.1V498.8 M312.28 494.1h4 M312.28 498.8h4 M322.48 495.2V498.8 M320.48 495.2h4 M320.48 498.8h4" stroke="#505050" stroke-width="1.0" fill="none"/>
<rect x="333.09" y="495.23" width="8.2" height="17.88" fill="url(#hl)"/>
<rect x="341.29" y="497.2" width="8.2" height="15.9" fill="url(#ho)"/>
<rect x="349.49" y="496.6" width="8.2" height="16.5" fill="#5ef2f2"/>
<path d="M337.19 494.1V496.6 M335.19 494.1h4 M335.19 496.6h4 M345.39 494.1V499 M343.39 494.1h4 M343.39 499h4 M353.59 494.5V498.3 M351.59 494.5h4 M351.59 498.3h4" stroke="#505050" stroke-width="1.0" fill="none"/>
<rect x="364.21" y="495.5" width="8.2" height="17.6" fill="url(#hl)"/>
<rect x="372.41" y="497.2" width="8.2" height="15.9" fill="url(#ho)"/>
<rect x="380.61" y="497.88" width="8.2" height="15.22" fill="#5ef2f2"/>
<path d="M368.31 493V498 M366.31 493h4 M366.31 498h4 M376.51 495.1V498.8 M374.51 495.1h4 M374.51 498.8h4 M384.71 496.5V498.8 M382.71 496.5h4 M382.71 498.8h4" stroke="#505050" stroke-width="1.0" fill="none"/>
<rect x="395.32" y="407.23" width="8.2" height="105.88" fill="url(#hl)"/>
<rect x="403.52" y="436.56" width="8.2" height="76.54" fill="url(#ho)"/>
<rect x="411.72" y="442.98" width="8.2" height="70.12" fill="#5ef2f2"/>
<path d="M399.43 402.3V412.1 M397.43 402.3h4 M397.43 412.1h4 M407.62 433.4V440.5 M405.62 433.4h4 M405.62 440.5h4 M415.82 439.9V446.4 M413.82 439.9h4 M413.82 446.4h4" stroke="#505050" stroke-width="1.0" fill="none"/>
<rect x="426.44" y="379.73" width="8.2" height="133.38" fill="url(#hl)"/>
<rect x="434.64" y="415.93" width="8.2" height="97.17" fill="url(#ho)"/>
<rect x="442.84" y="411.35" width="8.2" height="101.75" fill="#5ef2f2"/>
<path d="M430.54 375.8V382.9 M428.54 375.8h4 M428.54 382.9h4 M438.74 412.7V417.9 M436.74 412.7h4 M436.74 417.9h4 M446.94 408V414.1 M444.94 408h4 M444.94 414.1h4" stroke="#505050" stroke-width="1.0" fill="none"/>
<path d="M267.6 513.1h3 M267.6 490.18h3 M267.6 467.27h3 M267.6 444.35h3 M267.6 421.43h3 M267.6 398.52h3 M267.6 375.6h3 M267.6 501.64h2 M267.6 478.73h2 M267.6 455.81h2 M267.6 432.89h2 M267.6 409.98h2 M267.6 387.06h2 M283.16 513.1v-3 M314.28 513.1v-3 M345.39 513.1v-3 M376.51 513.1v-3 M407.62 513.1v-3 M438.74 513.1v-3" stroke="#1a1a1a" stroke-width="1.1" fill="none"/>
<rect x="267.6" y="375.6" width="186.7" height="137.5" fill="none" stroke="#1a1a1a" stroke-width="1.4"/>
<text transform="translate(264.4 516.89) scale(1 1.0)" text-anchor="end" font-family="'Liberation Sans', sans-serif" font-weight="bold" font-size="11">0</text>
<text transform="translate(264.4 493.98) scale(1 1.0)" text-anchor="end" font-family="'Liberation Sans', sans-serif" font-weight="bold" font-size="11">5</text>
<text transform="translate(264.4 471.06) scale(1 1.0)" text-anchor="end" font-family="'Liberation Sans', sans-serif" font-weight="bold" font-size="11">10</text>
<text transform="translate(264.4 448.15) scale(1 1.0)" text-anchor="end" font-family="'Liberation Sans', sans-serif" font-weight="bold" font-size="11">15</text>
<text transform="translate(264.4 425.23) scale(1 1.0)" text-anchor="end" font-family="'Liberation Sans', sans-serif" font-weight="bold" font-size="11">20</text>
<text transform="translate(264.4 402.31) scale(1 1.0)" text-anchor="end" font-family="'Liberation Sans', sans-serif" font-weight="bold" font-size="11">25</text>
<text transform="translate(264.4 379.4) scale(1 1.0)" text-anchor="end" font-family="'Liberation Sans', sans-serif" font-weight="bold" font-size="11">30</text>
<text transform="translate(283.16 523) scale(1 1.0)" text-anchor="middle" font-family="'Liberation Sans', sans-serif" font-weight="bold" font-size="9.3">PCTFE</text>
<text transform="translate(314.28 523) scale(1 1.0)" text-anchor="middle" font-family="'Liberation Sans', sans-serif" font-weight="bold" font-size="9.3">ETFE</text>
<text transform="translate(345.39 523) scale(1 1.0)" text-anchor="middle" font-family="'Liberation Sans', sans-serif" font-weight="bold" font-size="9.3">FEP</text>
<text transform="translate(376.51 523) scale(1 1.0)" text-anchor="middle" font-family="'Liberation Sans', sans-serif" font-weight="bold" font-size="9.3">PFA</text>
<text transform="translate(407.62 523) scale(1 1.0)" text-anchor="middle" font-family="'Liberation Sans', sans-serif" font-weight="bold" font-size="9.3">PET</text>
<text transform="translate(438.74 523) scale(1 1.0)" text-anchor="middle" font-family="'Liberation Sans', sans-serif" font-weight="bold" font-size="9.3">PI</text>
<text x="360.5" y="537.2" text-anchor="middle" font-family="'Liberation Serif', serif" font-weight="bold" font-size="13.6">Materials</text>
<text x="247" y="501" transform="rotate(-90 247 501)" font-family="'Liberation Serif', serif" font-weight="bold" font-size="13.5">Toughness (MJ/m<tspan dy="-6.4" font-size="10.5">3</tspan><tspan dy="6.4">)</tspan></text>
<text x="272.8" y="394.3" text-anchor="start" font-family="'Liberation Serif', serif" font-weight="bold" font-size="21">(f)</text>
<rect x="304" y="415.8" width="15" height="7.2" fill="url(#hl)"/>
<text x="322.4" y="422.1" text-anchor="start" font-family="'Liberation Serif', serif" font-weight="bold" font-size="12.3">0 days</text>
<rect x="304" y="430.9" width="15" height="7.2" fill="url(#ho)"/>
<text x="322.4" y="437.2" text-anchor="start" font-family="'Liberation Serif', serif" font-weight="bold" font-size="12.3">7 days</text>
<rect x="304" y="446" width="15" height="7.2" fill="#5ef2f2"/>
<text x="322.4" y="452.3" text-anchor="start" font-family="'Liberation Serif', serif" font-weight="bold" font-size="12.3">30 days</text>
</svg></body></html>
